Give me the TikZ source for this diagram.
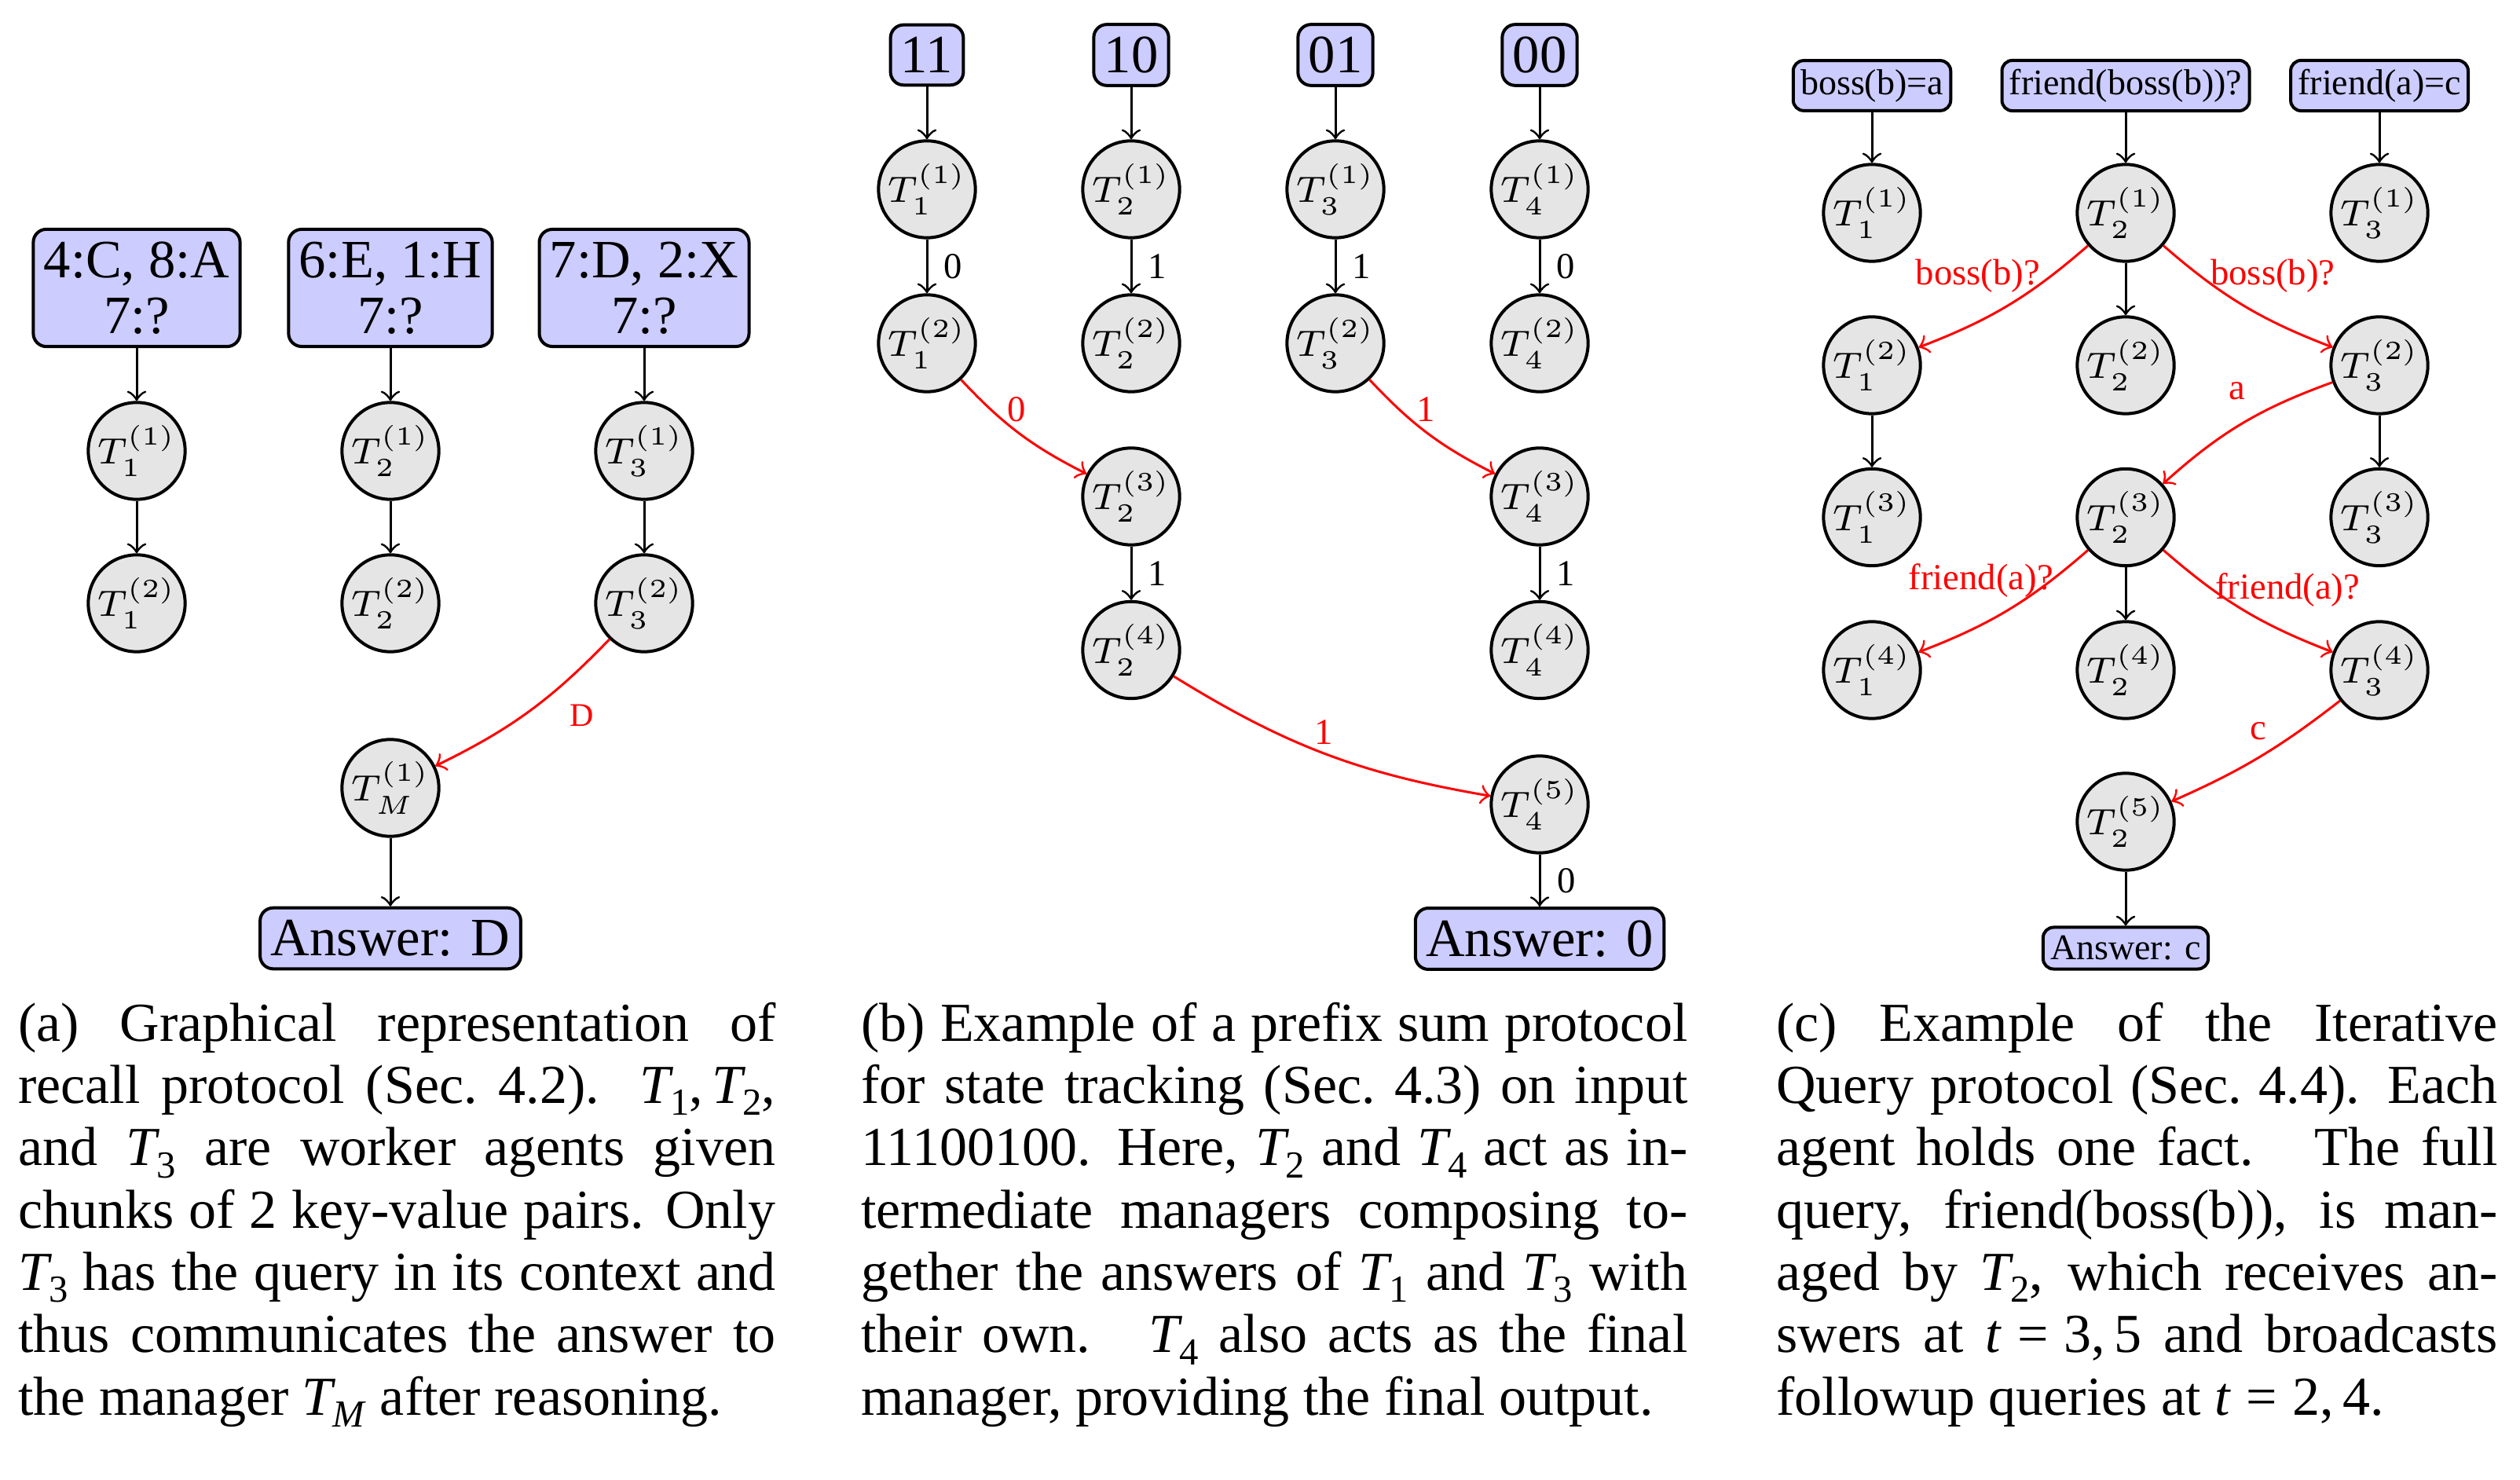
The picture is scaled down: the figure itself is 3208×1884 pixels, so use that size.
\documentclass[tikz,border=0pt]{standalone}
\usepackage[no-math]{fontspec}
\setmainfont{Liberation Serif}
\newcommand\Ts[1]{\textit{T}\kern-0.06em\raisebox{-0.22em}{\fontsize{7.3}{8}\selectfont #1}}
\newcommand\ja[1]{\makebox[144.6pt][s]{#1}}
\newcommand\jb[1]{\makebox[157.8pt][s]{#1}}
\newcommand\jc[1]{\makebox[137.7pt][s]{#1}}
\begin{document}
\begin{tikzpicture}[x=0.15pt, y=-0.15pt,
  agent/.style={circle, draw, line width=0.6pt, fill=gray!20, minimum size=18.5pt, inner sep=0pt, font=\fontsize{7}{8}\selectfont},
  bigbox/.style={draw, line width=0.6pt, fill=blue!20, rounded corners=2.5pt, inner xsep=2pt, inner ysep=2.35pt, align=center, font=\fontsize{10.3}{10.7}\selectfont},
  smallbox/.style={draw, line width=0.6pt, fill=blue!20, rounded corners=2pt, inner xsep=1.4pt, inner ysep=1.65pt, font=\fontsize{6.9}{8}\selectfont},
  flow/.style={->, line width=0.45pt},
  msg/.style={->, red, line width=0.45pt},
  lbl/.style={font=\fontsize{7}{8}\selectfont, inner sep=0pt},
  captext/.style={inner sep=0pt, anchor=base west, font=\fontsize{10.5}{11.9}\selectfont}]
\useasboundingbox (0,0) rectangle (3208,1884);

% ---------------- panel (a)
\node[bigbox] (a1box) at (174,366.5) {4:C, 8:A\\7:?};
\node[bigbox] (a2box) at (497,366.5) {6:E, 1:H\\7:?};
\node[bigbox] (a3box) at (820,366.5) {7:D, 2:X\\7:?};
\node[agent] (a11) at (174,574) {$T^{(1)}_1$};
\node[agent] (a12) at (174,768) {$T^{(2)}_1$};
\node[agent] (a21) at (497,574) {$T^{(1)}_2$};
\node[agent] (a22) at (497,768) {$T^{(2)}_2$};
\node[agent] (a31) at (820,574) {$T^{(1)}_3$};
\node[agent] (a32) at (820,768) {$T^{(2)}_3$};
\node[agent] (aM) at (497,1003) {$T^{(1)}_M$};
\node[bigbox] (aAns) at (497,1194.5) {Answer: D};
\draw[flow] (a1box) -- (a11);
\draw[flow] (a11) -- (a12);
\draw[flow] (a2box) -- (a21);
\draw[flow] (a21) -- (a22);
\draw[flow] (a3box) -- (a31);
\draw[flow] (a31) -- (a32);
\draw[msg] (a32) to[bend left=10] node[lbl, midway, shift={(67,5)}, font=\fontsize{6.3}{7}\selectfont]{D} (aM);
\draw[flow] (aM) -- (aAns);

% ---------------- panel (b)
\node[bigbox] (b1box) at (1180,70) {11};
\node[bigbox] (b2box) at (1440,70) {10};
\node[bigbox] (b3box) at (1700,70) {01};
\node[bigbox] (b4box) at (1960,70) {00};
\node[agent] (b11) at (1180,241) {$T^{(1)}_1$};
\node[agent] (b21) at (1440,241) {$T^{(1)}_2$};
\node[agent] (b31) at (1700,241) {$T^{(1)}_3$};
\node[agent] (b41) at (1960,241) {$T^{(1)}_4$};
\node[agent] (b12) at (1180,437) {$T^{(2)}_1$};
\node[agent] (b22) at (1440,437) {$T^{(2)}_2$};
\node[agent] (b32) at (1700,437) {$T^{(2)}_3$};
\node[agent] (b42) at (1960,437) {$T^{(2)}_4$};
\node[agent] (b23) at (1440,632) {$T^{(3)}_2$};
\node[agent] (b43) at (1960,632) {$T^{(3)}_4$};
\node[agent] (b24) at (1440,827.5) {$T^{(4)}_2$};
\node[agent] (b44) at (1960,827.5) {$T^{(4)}_4$};
\node[agent] (b45) at (1960,1024) {$T^{(5)}_4$};
\node[bigbox] (bAns) at (1960,1195) {Answer: 0};
\draw[flow] (b1box) -- (b11);
\draw[flow] (b2box) -- (b21);
\draw[flow] (b3box) -- (b31);
\draw[flow] (b4box) -- (b41);
\draw[flow] (b11) -- node[lbl, shift={(33,0)}]{0} (b12);
\draw[flow] (b21) -- node[lbl, shift={(33,0)}]{1} (b22);
\draw[flow] (b31) -- node[lbl, shift={(33,0)}]{1} (b32);
\draw[flow] (b41) -- node[lbl, shift={(33,0)}]{0} (b42);
\draw[msg] (b12) to[bend right=10] node[lbl, midway, shift={(-3,-30)}]{0} (b23);
\draw[msg] (b32) to[bend right=10] node[lbl, midway, shift={(-2,-30)}]{1} (b43);
\draw[flow] (b23) -- node[lbl, shift={(33,0)}]{1} (b24);
\draw[flow] (b43) -- node[lbl, shift={(33,0)}]{1} (b44);
\draw[msg] (b24) to[bend right=11] node[lbl, midway, shift={(-2,-28)}]{1} (b45);
\draw[flow] (b45) -- node[lbl, shift={(34,0)}]{0} (bAns);

% ---------------- panel (c)
\node[smallbox] (c1box) at (2383,109) {boss(b)=a};
\node[smallbox] (c2box) at (2706,109) {friend(boss(b))?};
\node[smallbox] (c3box) at (3029,109) {friend(a)=c};
\node[agent] (c11) at (2383,271) {$T^{(1)}_1$};
\node[agent] (c21) at (2706,271) {$T^{(1)}_2$};
\node[agent] (c31) at (3029,271) {$T^{(1)}_3$};
\node[agent] (c12) at (2383,465) {$T^{(2)}_1$};
\node[agent] (c22) at (2706,465) {$T^{(2)}_2$};
\node[agent] (c32) at (3029,465) {$T^{(2)}_3$};
\node[agent] (c13) at (2383,658.5) {$T^{(3)}_1$};
\node[agent] (c23) at (2706,658.5) {$T^{(3)}_2$};
\node[agent] (c33) at (3029,658.5) {$T^{(3)}_3$};
\node[agent] (c14) at (2383,853) {$T^{(4)}_1$};
\node[agent] (c24) at (2706,853) {$T^{(4)}_2$};
\node[agent] (c34) at (3029,853) {$T^{(4)}_3$};
\node[agent] (c25) at (2706,1046) {$T^{(5)}_2$};
\node[smallbox] (cAns) at (2706,1207) {Answer: c};
\draw[flow] (c1box) -- (c11);
\draw[flow] (c2box) -- (c21);
\draw[flow] (c3box) -- (c31);
\draw[flow] (c21) -- (c22);
\draw[msg] (c21) to[bend left=10] node[lbl, midway, shift={(-39,-37)}]{boss(b)?} (c12);
\draw[msg] (c21) to[bend right=10] node[lbl, midway, shift={(38,-37)}]{boss(b)?} (c32);
\draw[flow] (c12) -- (c13);
\draw[flow] (c32) -- (c33);
\draw[msg] (c32) to[bend right=11] node[lbl, midway, shift={(-6,-41)}]{a} (c23);
\draw[flow] (c23) -- (c24);
\draw[msg] (c23) to[bend left=10] node[lbl, midway, shift={(-35,-37)}]{friend(a)?} (c14);
\draw[msg] (c23) to[bend right=10] node[lbl, midway, shift={(57,-25)}]{friend(a)?} (c34);
\draw[msg] (c34) to[bend left=7] node[lbl, midway, shift={(-1,-33)}]{c} (c25);
\draw[flow] (c25) -- (cAns);

% ---------------- captions
\node[captext] (capa) at (22,1325) {\parbox[t]{144.6pt}{%
\ja{(a) Graphical representation of}\\
\ja{recall protocol (Sec.\ 4.2). \Ts{1},\thinspace\Ts{2},}\\
\ja{and \Ts{3} are worker agents given}\\
\ja{chunks of 2 key-value pairs. Only}\\
\ja{\Ts{3} has the query in its context and}\\
\ja{thus communicates the answer to}\\
the manager \Ts{\textit{M}} after reasoning.}};
\node[captext] (capb) at (1095,1325) {\parbox[t]{157.8pt}{%
\jb{(b) Example of a prefix sum protocol}\\
\jb{for state tracking (Sec.\ 4.3) on input}\\
\jb{11100100. Here, \Ts{2} and \Ts{4} act as in-}\\
\jb{termediate managers composing to-}\\
\jb{gether the answers of \Ts{1} and \Ts{3} with}\\
\jb{their own. \ \Ts{4} also acts as the final}\\
manager, providing the final output.}};
\node[captext] (capc) at (2260,1325) {\parbox[t]{137.7pt}{%
\jc{(c) Example of the Iterative}\\
\jc{Query protocol (Sec.\ 4.4). Each}\\
\jc{agent holds one fact. \ The full}\\
\jc{query, friend(boss(b)), is man-}\\
\jc{aged by \Ts{2}, which receives an-}\\
\jc{swers at \textit{t}\hspace{0.28em}=\hspace{0.28em}3,\thinspace 5 and broadcasts}\\
followup queries at \textit{t}\hspace{0.28em}=\hspace{0.28em}2,\thinspace 4.}};
\end{tikzpicture}
\end{document}
